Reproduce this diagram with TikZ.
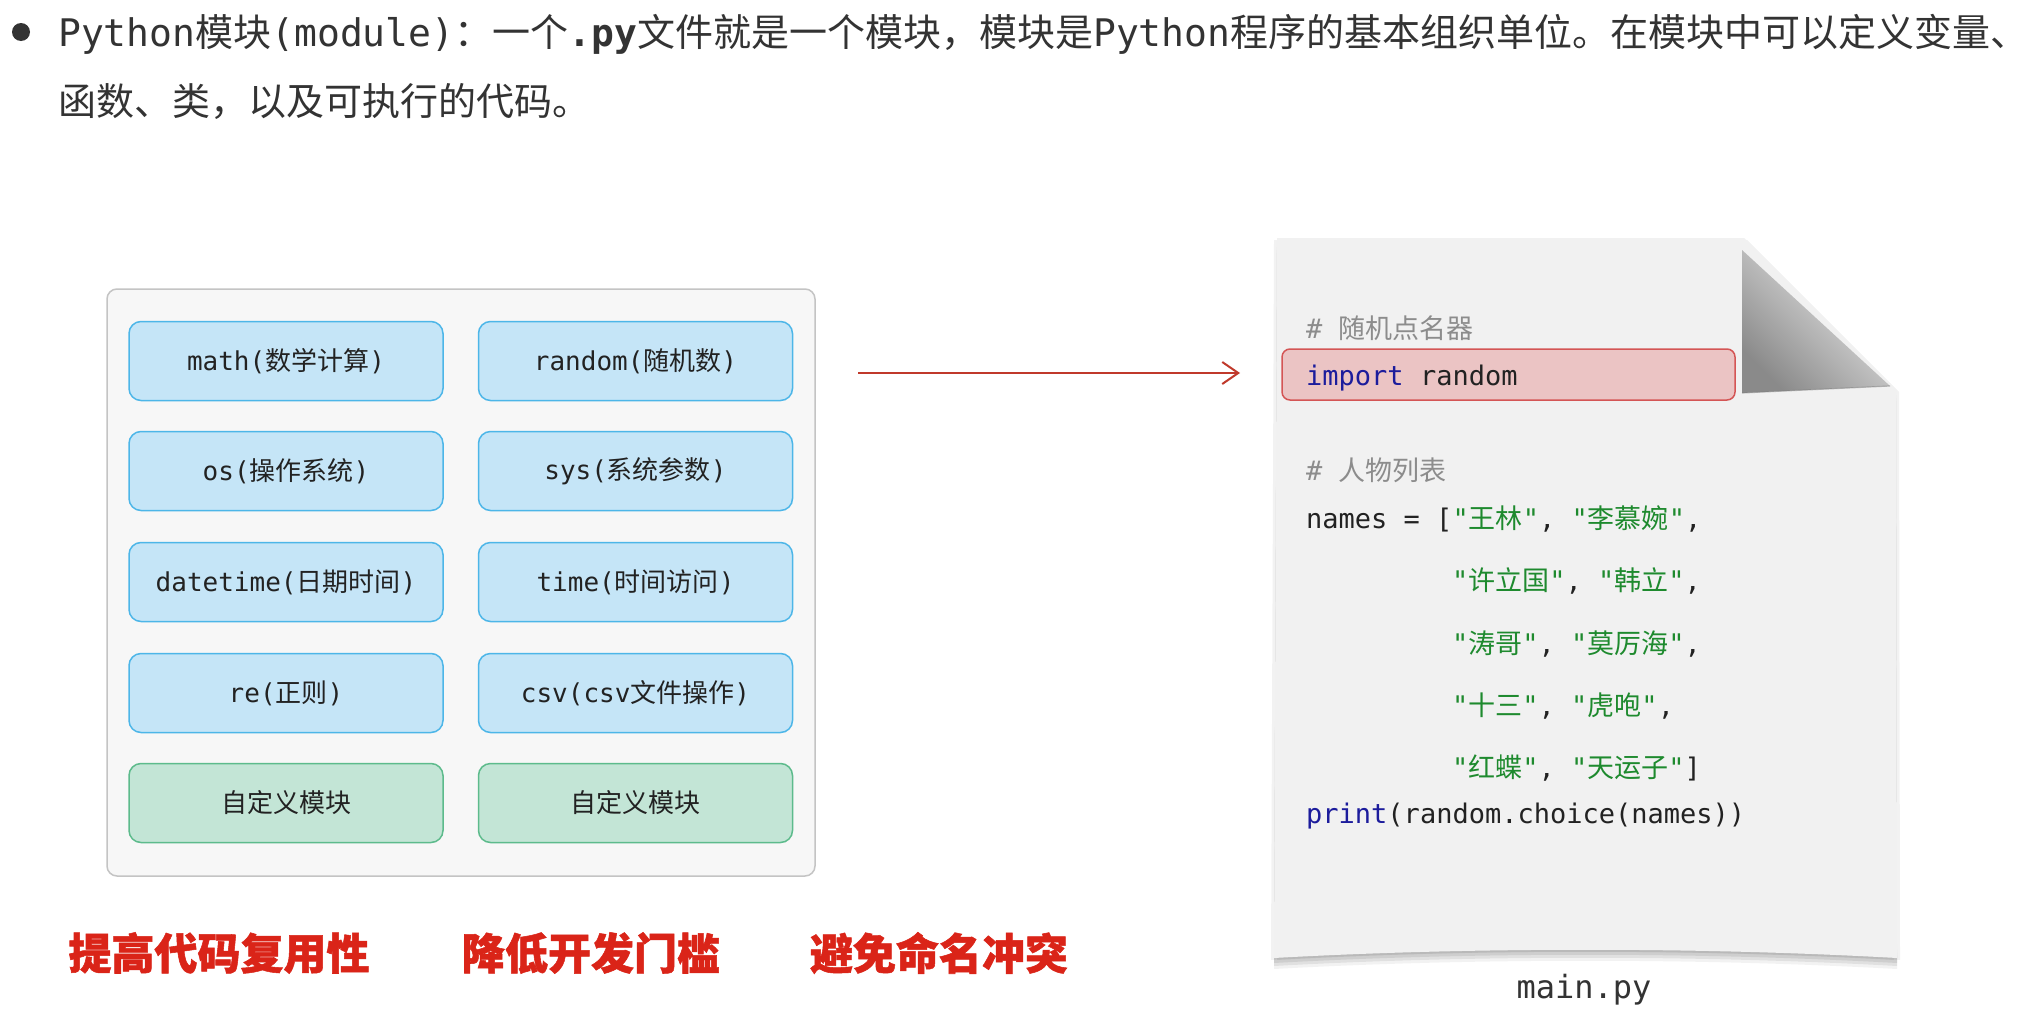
\documentclass[tikz,border=0pt]{standalone}
\usepackage{fontspec}
\setmainfont{DejaVu Sans}
\setmonofont{DejaVu Sans Mono}
\newfontfamily\cjk{Noto Sans CJK SC}
\newfontfamily\cjkheavy[BoldFeatures={FakeBold=1.2}]{Noto Sans CJK SC}
\usetikzlibrary{arrows.meta}
\definecolor{titlegray}{HTML}{333333}
\definecolor{contfill}{HTML}{F7F7F7}
\definecolor{contdraw}{HTML}{C4C4C4}
\definecolor{bluefill}{HTML}{C5E5F7}
\definecolor{bluedraw}{HTML}{4DB6E8}
\definecolor{greenfill}{HTML}{C3E5D6}
\definecolor{greendraw}{HTML}{5DBB8C}
\definecolor{arrowred}{HTML}{C0392B}
\definecolor{paperfill}{HTML}{F1F1F1}
\definecolor{hlfill}{HTML}{EBC4C4}
\definecolor{hldraw}{HTML}{D45555}
\definecolor{cmtgray}{HTML}{8C8C8C}
\definecolor{kwblue}{HTML}{1C1C9C}
\definecolor{strgreen}{HTML}{1E8A2E}
\definecolor{codeblack}{HTML}{222222}
\definecolor{slogred}{HTML}{DA2418}
\definecolor{flapdark}{HTML}{8A8A8A}
\definecolor{flaplight}{HTML}{EDEDED}
\newcommand\zh[1]{{\cjk #1}}
\newcommand\pystr[1]{\textcolor{strgreen}{"{\cjk #1}"}}
\newcommand\paperpath[1]{\fill[#1] (1277,238) -- (1744,238) -- (1896,390) -- (1897,958) .. controls (1700,947) and (1470,947) .. (1274,958) -- cycle;}
\begin{document}
\begin{tikzpicture}[x=1pt,y=-1pt,
  container/.style={draw=contdraw, fill=contfill, line width=1.5pt, rounded corners=10pt, minimum width=708pt, minimum height=587pt, inner sep=0pt},
  modbase/.style={line width=1.5pt, rounded corners=12pt, minimum width=314pt, minimum height=79pt, inner sep=0pt, text=codeblack, font=\fontsize{26}{30}\selectfont\ttfamily},
  modblue/.style={modbase, draw=bluedraw, fill=bluefill},
  modgreen/.style={modbase, draw=greendraw, fill=greenfill},
  codeline/.style={anchor=base west, inner sep=0pt, text=codeblack, font=\fontsize{27}{32}\selectfont\ttfamily},
  slogan/.style={inner sep=0pt, text=slogred, font=\fontsize{43}{50}\selectfont\cjkheavy\bfseries},
  hlbox/.style={draw=hldraw, fill=hlfill, line width=1.5pt, rounded corners=8pt, minimum width=453pt, minimum height=51pt, inner sep=0pt}
]
\useasboundingbox (0,0) rectangle (2029,1009);
\fill[white] (0,0) rectangle (2029,1009);

% title
\fill[titlegray] (21,32) circle (9);
\node[anchor=base west, inner sep=0pt, text=titlegray, font=\fontsize{38}{44}\selectfont\ttfamily] (t1) at (58,46)
  {Python\zh{模块}(module)\zh{：一个}\textbf{.py}\zh{文件就是一个模块，模块是}Python\zh{程序的基本组织单位。在模块中可以定义变量、}};
\node[anchor=base west, inner sep=0pt, text=titlegray, font=\fontsize{38}{44}\selectfont\ttfamily] (t2) at (58,115)
  {\zh{函数、类，以及可执行的代码。}};

% container and modules
\node[container] (cont) at (461,582.5) {};
\node[modblue] (m1) at (286,361) {math(\zh{数学计算})};
\node[modblue] (m2) at (635.5,361) {random(\zh{随机数})};
\node[modblue] (m3) at (286,471) {os(\zh{操作系统})};
\node[modblue] (m4) at (635.5,471) {sys(\zh{系统参数})};
\node[modblue] (m5) at (286,582) {datetime(\zh{日期时间})};
\node[modblue] (m6) at (635.5,582) {time(\zh{时间访问})};
\node[modblue] (m7) at (286,693) {re(\zh{正则})};
\node[modblue] (m8) at (635.5,693) {csv(csv\zh{文件操作})};
\node[modgreen] (m9) at (286,803) {\zh{自定义模块}};
\node[modgreen] (m10) at (635.5,803) {\zh{自定义模块}};

% arrow
\coordinate (as) at (858,373);
\coordinate (ae) at (1240,373);
\draw[arrowred, line width=2pt, -{Straight Barb[length=16pt,width=22pt,line width=2pt]}] (as) -- (ae);

% paper with shadow
\paperpath{black, opacity=0.05, shift={(0,11)}}
\paperpath{black, opacity=0.07, shift={(0,8)}}
\paperpath{black, opacity=0.08, shift={(0,5)}}
\paperpath{black, opacity=0.05, shift={(3,2)}}
\paperpath{black, opacity=0.05, shift={(-3,2)}}
\paperpath{paperfill}
\shade[top color=flaplight, bottom color=flapdark, shading angle=-45] (1742,250) -- (1742,393) -- (1890,386) -- cycle;
\draw[gray, opacity=0.5, line width=1.2pt] (1742,393) -- (1890,386);

% highlight
\node[hlbox] (hl) at (1508.5,374.5) {};

% code
\node[codeline] (c1) at (1306,338) {\textcolor{cmtgray}{\# \zh{随机点名器}}};
\node[codeline] (c2) at (1306,385) {\textcolor{kwblue}{import} random};
\node[codeline] (c3) at (1306,480) {\textcolor{cmtgray}{\# \zh{人物列表}}};
\node[codeline] (c4) at (1306,528) {names = [\pystr{王林}, \pystr{李慕婉},};
\node[codeline] (c5) at (1452,590) {\pystr{许立国}, \pystr{韩立},};
\node[codeline] (c6) at (1452,653) {\pystr{涛哥}, \pystr{莫厉海},};
\node[codeline] (c7) at (1452,715) {\pystr{十三}, \pystr{虎咆},};
\node[codeline] (c8) at (1452,777) {\pystr{红蝶}, \pystr{天运子}]};
\node[codeline] (c9) at (1306,823) {\textcolor{kwblue}{print}(random.choice(names))};

\node[inner sep=0pt, text=titlegray, font=\fontsize{32}{38}\selectfont\ttfamily] (fname) at (1584,990) {main.py};

% slogans
\node[slogan] (s1) at (219,953) {提高代码复用性};
\node[slogan] (s2) at (591,953) {降低开发门槛};
\node[slogan] (s3) at (939,953) {避免命名冲突};
\end{tikzpicture}
\end{document}
